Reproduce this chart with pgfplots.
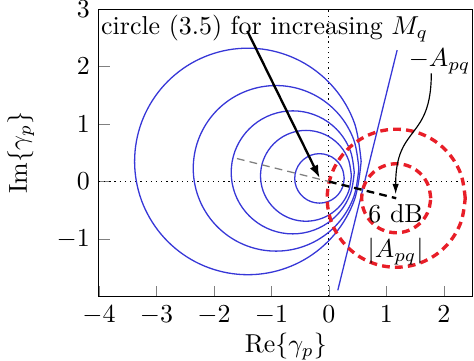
\documentclass[border=0pt]{standalone}
\usepackage{pgfplots}
\pgfplotsset{compat=1.18}
\usetikzlibrary{arrows.meta}
\definecolor{cblue}{RGB}{55,55,215}
\definecolor{cred}{RGB}{232,30,40}
\begin{document}
\begin{tikzpicture}
\begin{axis}[
  name=ax,
  x=22.2pt, y=22.2pt,
  xmin=-4, xmax=2.5, ymin=-2, ymax=3,
  xtick={-4,-3,-2,-1,0,1,2},
  ytick={-1,0,1,2,3},
  tick pos=left,
  xlabel={$\mathrm{Re}\{\gamma_p\}$},
  ylabel={$\mathrm{Im}\{\gamma_p\}$},
  xlabel style={yshift=3.6pt},
  ylabel shift=1.8pt,
  clip=false,
]
% zero lines
\addplot[black, dash pattern=on 0.5pt off 1.5pt, line width=0.4pt] coordinates {(-4,0) (2.5,0)};
\addplot[black, dash pattern=on 0.5pt off 1.5pt, line width=0.4pt] coordinates {(0,-2) (0,3)};
% blue circles
\addplot[cblue, line width=0.5pt, smooth, tension=0.61] coordinates {
(0.56,0.35) (0.441,1.024) (0.099,1.616) (-0.425,2.056) (-1.068,2.290) (-1.752,2.290)
(-2.395,2.056) (-2.919,1.616) (-3.261,1.024) (-3.38,0.35) (-3.261,-0.324) (-2.919,-0.916)
(-2.395,-1.356) (-1.752,-1.590) (-1.068,-1.590) (-0.425,-1.356) (0.099,-0.916) (0.441,-0.324) (0.56,0.35)};
\addplot[cblue, line width=0.5pt, smooth, tension=0.61] coordinates {
(0.52,0.23) (0.433,0.7225) (0.183,1.156) (-0.20,1.477) (-0.67,1.648) (-1.17,1.648)
(-1.64,1.477) (-2.023,1.156) (-2.273,0.7225) (-2.36,0.23) (-2.273,-0.2625) (-2.023,-0.696)
(-1.64,-1.017) (-1.17,-1.188) (-0.67,-1.188) (-0.20,-1.017) (0.183,-0.696) (0.433,-0.2625) (0.52,0.23)};
\addplot[cblue, line width=0.5pt, smooth, tension=0.61] coordinates {
(0.44,0.16) (0.3755,0.526) (0.1896,0.8478) (-0.095,1.0866) (-0.4442,1.2137) (-0.8158,1.2137)
(-1.165,1.0866) (-1.4496,0.8478) (-1.6355,0.526) (-1.70,0.16) (-1.6355,-0.206) (-1.4496,-0.5278)
(-1.165,-0.7666) (-0.8158,-0.8937) (-0.4442,-0.8937) (-0.095,-0.7666) (0.1896,-0.5278) (0.3755,-0.206) (0.44,0.16)};
\addplot[cblue, line width=0.5pt, smooth, tension=0.61] coordinates {
(0.39,0.10) (0.3424,0.3702) (0.2051,0.6078) (-0.005,0.7841) (-0.2629,0.878) (-0.5371,0.878)
(-0.795,0.7841) (-1.0051,0.6078) (-1.1424,0.3702) (-1.19,0.10) (-1.1424,-0.1702) (-1.0051,-0.4078)
(-0.795,-0.5841) (-0.5371,-0.678) (-0.2629,-0.678) (-0.005,-0.5841) (0.2051,-0.4078) (0.3424,-0.1702) (0.39,0.10)};
\addplot[cblue, line width=0.5pt, smooth, tension=0.61] coordinates {
(0.265,0.055) (0.2391,0.2021) (0.1644,0.3314) (0.05,0.4274) (-0.0904,0.4785) (-0.2396,0.4785)
(-0.38,0.4274) (-0.4944,0.3314) (-0.5691,0.2021) (-0.595,0.055) (-0.5691,-0.0921) (-0.4944,-0.2214)
(-0.38,-0.3174) (-0.2396,-0.3685) (-0.0904,-0.3685) (0.05,-0.3174) (0.1644,-0.2214) (0.2391,-0.0921) (0.265,0.055)};
% tangent line
\addplot[cblue, line width=0.5pt] coordinates {(0.154,-1.89) (1.186,2.286)};
% red circles
\addplot[cred, line width=1.3pt, dash pattern=on 3pt off 2pt, smooth, tension=0.61] coordinates {
(2.37,-0.29) (2.2976,0.1204) (2.0892,0.4814) (1.77,0.7492) (1.3783,0.8918) (0.9617,0.8918)
(0.57,0.7492) (0.2508,0.4814) (0.0424,0.1204) (-0.03,-0.29) (0.0424,-0.7004) (0.2508,-1.0614)
(0.57,-1.3292) (0.9617,-1.4718) (1.3783,-1.4718) (1.77,-1.3292) (2.0892,-1.0614) (2.2976,-0.7004) (2.37,-0.29)};
\addplot[cred, line width=1.3pt, dash pattern=on 3pt off 2pt, smooth, tension=0.61] coordinates {
(1.77,-0.29) (1.7338,-0.0848) (1.6296,0.0957) (1.47,0.2296) (1.2742,0.3009) (1.0658,0.3009)
(0.87,0.2296) (0.7104,0.0957) (0.6062,-0.0848) (0.57,-0.29) (0.6062,-0.4952) (0.7104,-0.6757)
(0.87,-0.8096) (1.0658,-0.8809) (1.2742,-0.8809) (1.47,-0.8096) (1.6296,-0.6757) (1.7338,-0.4952) (1.77,-0.29)};
% dashed radial lines
\addplot[gray, line width=0.5pt, dash pattern=on 3pt off 2pt] coordinates {(-1.6,0.40) (0,0)};
\addplot[black, line width=0.9pt, dash pattern=on 3pt off 2pt] coordinates {(0,0) (1.17,-0.29)};
% arrows
\addplot[black, line width=0.9pt, -{Latex[length=5pt,width=3.5pt]}] coordinates {(-1.42,2.62) (-0.16,0.06)};
\draw[black, line width=0.45pt, -{Latex[length=4pt,width=2.5pt]}] (1.78,1.88) .. controls (1.78,0.7) and (1.16,1.0) .. (1.16,-0.22);
% labels
\node[anchor=base west, inner sep=0pt] at (-3.97,2.55) {circle (3.5) for increasing $M_q$};
\node[anchor=base east, inner sep=0pt] at (2.47,2.0) {$-A_{pq}$};
\node[anchor=base, inner sep=0pt] at (1.16,-0.72) {6 dB};
\node[anchor=center, inner sep=0pt] at (1.16,-1.22) {$|A_{pq}|$};
\end{axis}
\pgfresetboundingbox
\useasboundingbox ([xshift=-38.2pt,yshift=-24.8pt]ax.south west) rectangle ([xshift=0.5pt,yshift=3.5pt]ax.north east);
\end{tikzpicture}
\end{document}
